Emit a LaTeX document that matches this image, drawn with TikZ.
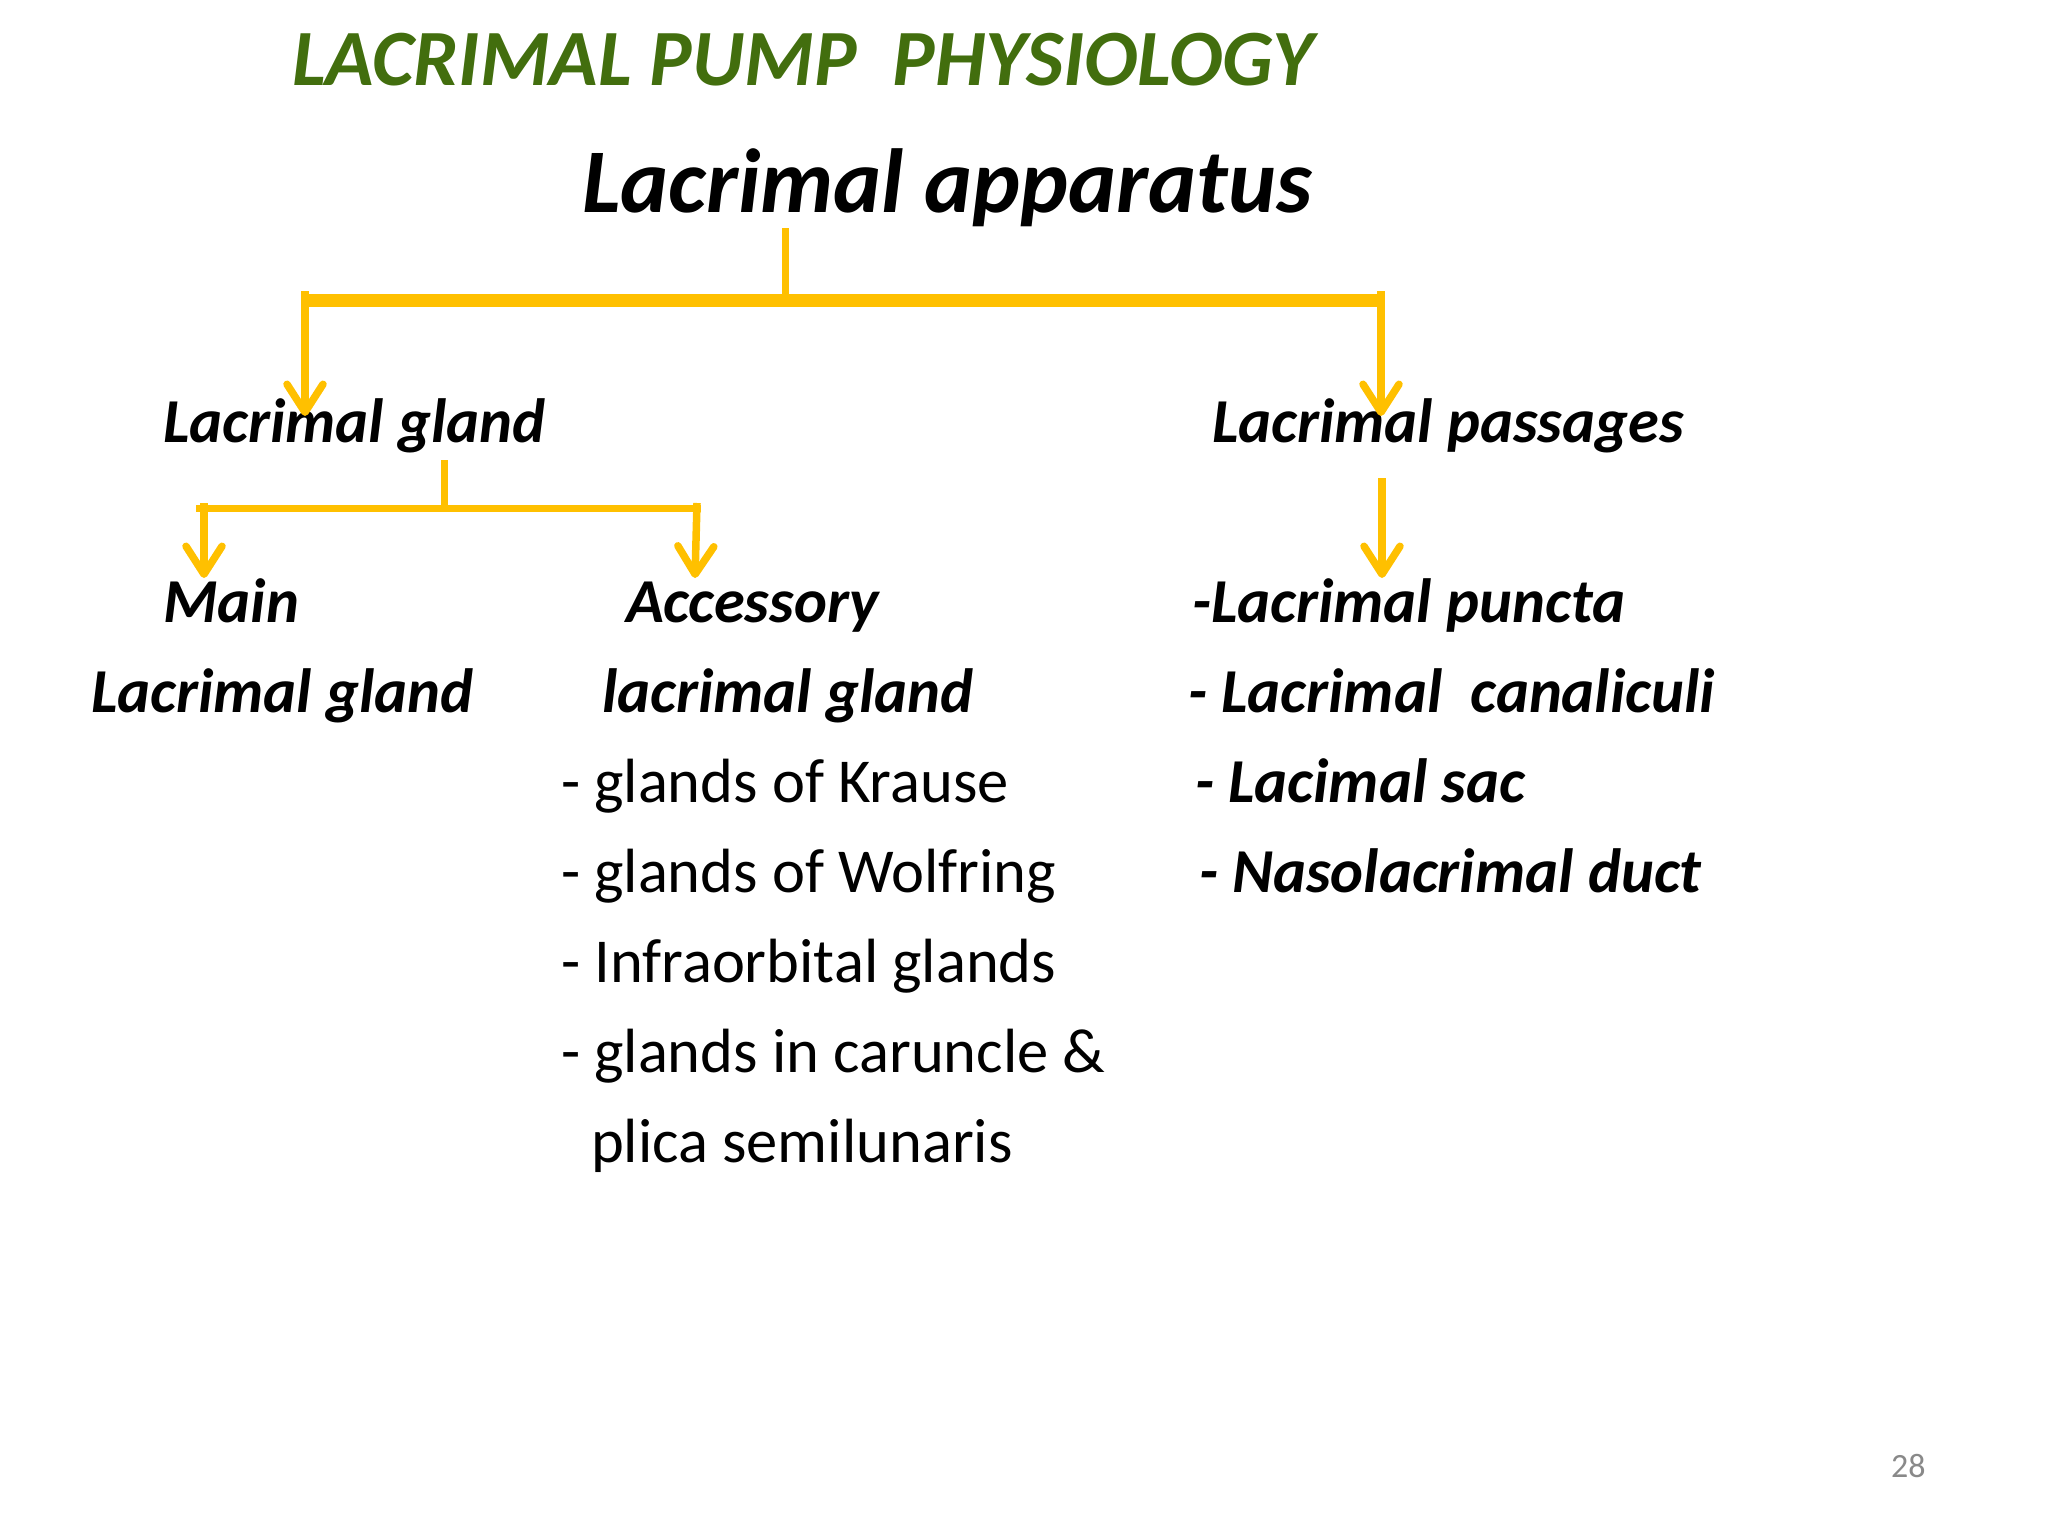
\documentclass[tikz,border=0pt]{standalone}
\usepackage{fontspec}
\setmainfont{Carlito}
\usetikzlibrary{arrows.meta}
\definecolor{gold}{RGB}{255,192,0}
\definecolor{titlegreen}{RGB}{66,110,14}
\definecolor{pagegray}{RGB}{137,137,137}
\tikzset{
  txt/.style={anchor=base west,inner sep=0pt,outer sep=0pt},
  bi/.style={txt,font=\fontsize{62.5}{75}\selectfont\bfseries\itshape},
  rg/.style={txt,font=\fontsize{62.5}{75}\selectfont},
  conn/.style={draw=gold,line width=7pt},
  bar/.style={draw=gold,line width=13pt},
  arr/.style={draw=gold,line width=7.5pt,-{Straight Barb[length=28pt,width=36pt,round]}},
}
\begin{document}
\begin{tikzpicture}[x=1pt,y=-1pt]
\useasboundingbox (0,0) rectangle (2048,1536);
% title
\node[txt,font=\fontsize{79.8}{90}\selectfont\bfseries\itshape,text=titlegreen] (title) at (292,86) {LACRIMAL PUMP\ \ PHYSIOLOGY};
\node[txt,font=\fontsize{91}{100}\selectfont\bfseries\itshape] (app) at (582,212) {Lacrimal apparatus};
% level 1
\node[bi] (gland) at (163,442) {Lacrimal gland};
\node[bi] (pass) at (1212,442) {Lacrimal passages};
% level 2
\node[bi] (main) at (163,622) {Main};
\node[bi] (main2) at (91,712) {Lacrimal gland};
\node[bi] (acc) at (626,622) {Accessory};
\node[bi] (acc2) at (602,712) {lacrimal gland};
\node[rg] (k) at (561,802) {- glands of Krause};
\node[rg] (w) at (561,892) {- glands of Wolfring};
\node[rg] (io) at (561,982) {- Infraorbital glands};
\node[rg] (car) at (561,1072) {- glands in caruncle \&};
\node[rg] (pl) at (591,1162) {plica semilunaris};
\node[bi] (p1) at (1192,622) {-Lacrimal puncta};
\node[bi] (p2) at (1188,712) {- Lacrimal\ \ canaliculi};
\node[bi] (p3) at (1195,802) {- Lacimal sac};
\node[bi] (p4) at (1199,892) {- Nasolacrimal duct};
\node[txt,font=\fontsize{34}{40}\selectfont,text=pagegray] (pg) at (1891,1477) {28};
% connector coordinates
\coordinate (t0) at (785,228);
\coordinate (t1) at (785,294);
\coordinate (bL) at (302,300);
\coordinate (bR) at (1380,300);
\coordinate (aL0) at (305,291);
\coordinate (aL1) at (305,416);
\coordinate (aR0) at (1381,291);
\coordinate (aR1) at (1381,416);
\coordinate (g0) at (444,460);
\coordinate (g1) at (444,505);
\coordinate (cL) at (196,508);
\coordinate (cR) at (701,508);
\coordinate (m0) at (204,503);
\coordinate (m1) at (204,578);
\coordinate (s0) at (697,503);
\coordinate (s1) at (695,578);
\coordinate (r0) at (1382,478);
\coordinate (r1) at (1382,578);
% connectors
\draw[conn] (t0) -- (t1);
\draw[bar] (bL) -- (bR);
\draw[arr] (aL0) -- (aL1);
\draw[arr] (aR0) -- (aR1);
\draw[conn] (g0) -- (g1);
\draw[conn] (cL) -- (cR);
\draw[arr] (m0) -- (m1);
\draw[arr] (s0) -- (s1);
\draw[arr] (r0) -- (r1);
\end{tikzpicture}
\end{document}
